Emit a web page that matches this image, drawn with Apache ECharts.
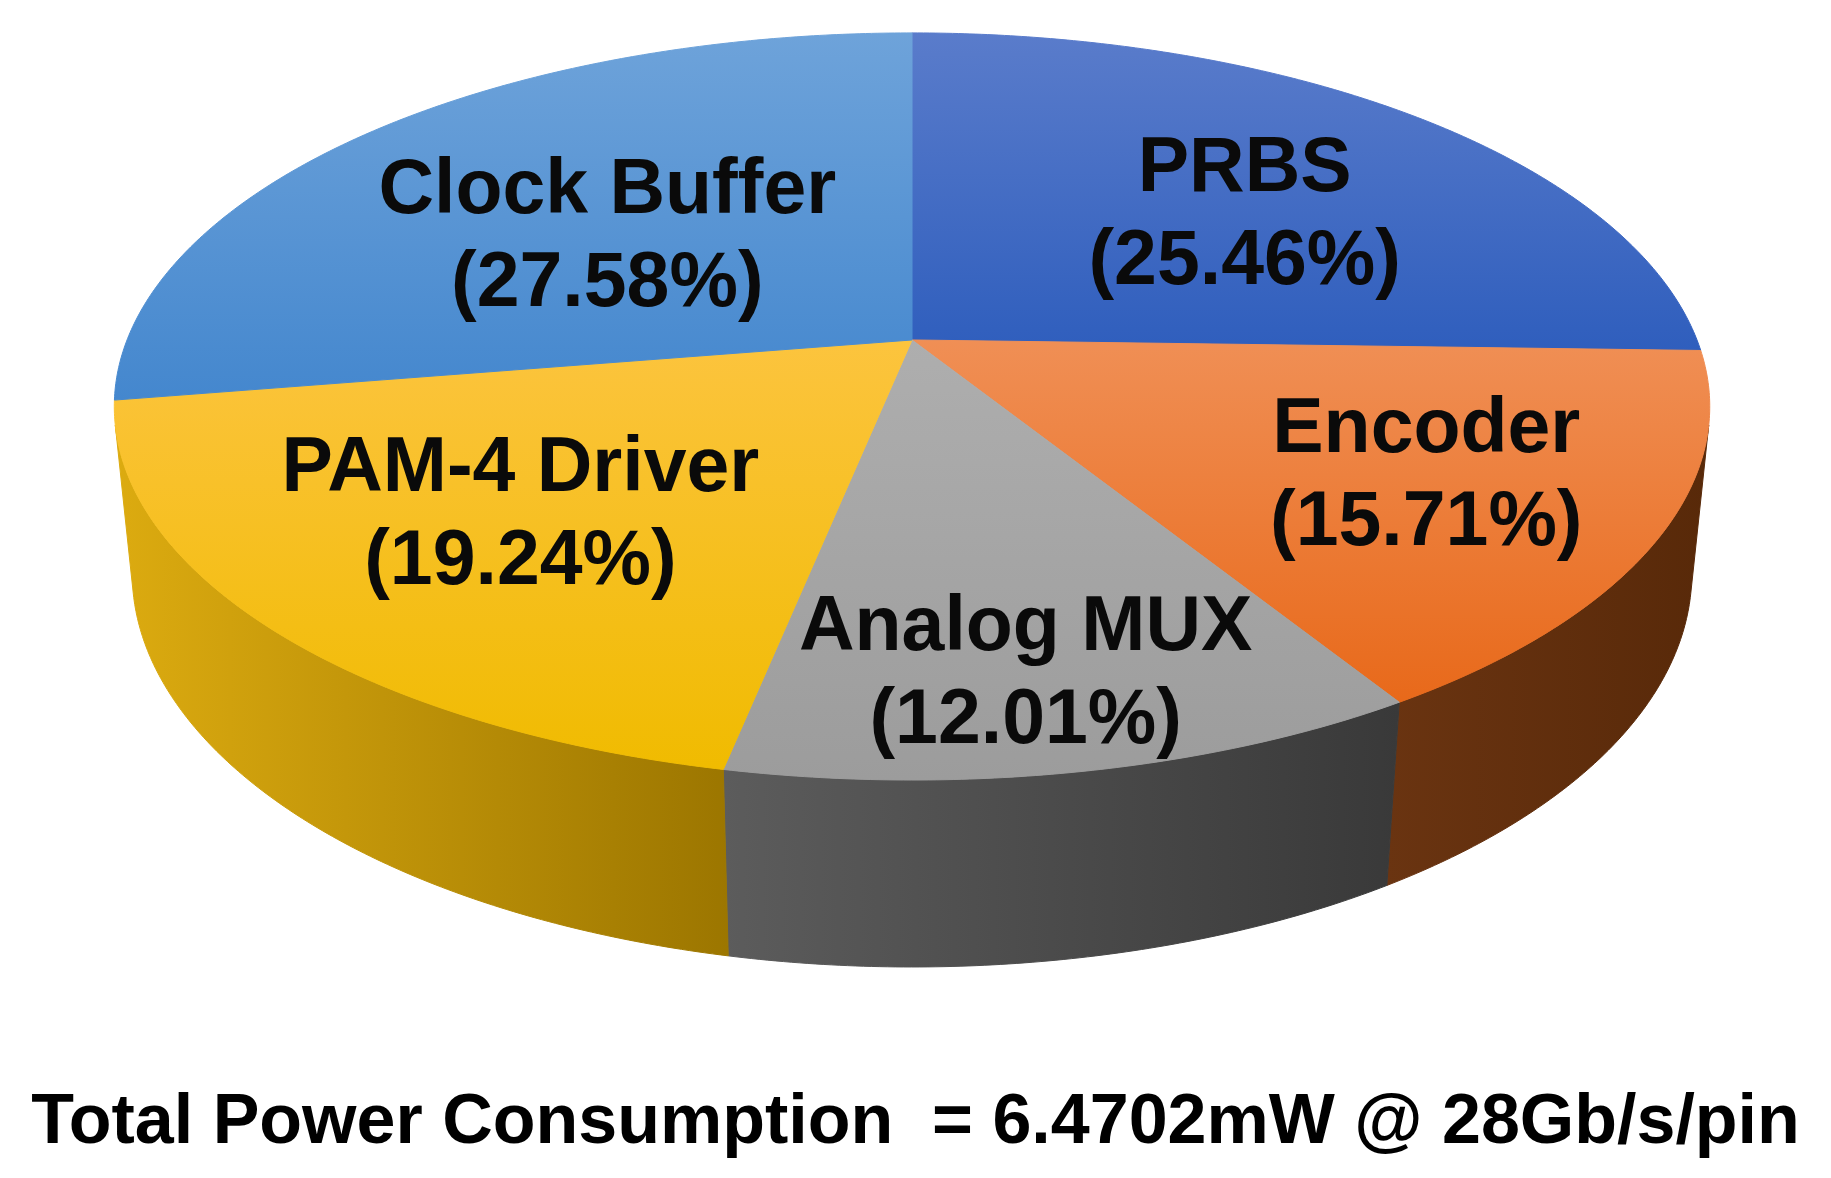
<!DOCTYPE html>
<html>
<head>
<meta charset="utf-8">
<script src="https://cdn.jsdelivr.net/npm/echarts@6/dist/echarts.min.js"></script>
<style>
  html, body { margin: 0; padding: 0; background: #ffffff; }
  #chart { width: 1831px; height: 1178px; }
</style>
</head>
<body>
<div id="chart"></div>
<script>
// ---------------- data ----------------
const categories = ['PRBS', 'Encoder', 'Analog MUX', 'PAM-4 Driver', 'Clock Buffer'];
const shares = [25.46, 15.71, 12.01, 19.24, 27.58];
const totalText = 'Total Power Consumption  = 6.4702mW @ 28Gb/s/pin';

// ---------------- styles ----------------
const topColors = [
  ['#5a7ccb', '#2f5ebd'],
  ['#f08f55', '#e8691a'],
  ['#aeaeae', '#9c9c9c'],
  ['#fcc43e', '#f0bb00'],
  ['#6ea3da', '#4487ce']
];
const sideColors = [
  ['#2a4f9a', '#20407e'],
  ['#6a3411', '#582909'],
  ['#5c5c5c', '#393939'],
  ['#dcab10', '#9c7600'],
  ['#3a6fa8', '#2d5a8a']
];
// label nudges (layout only, px)
const labelNudge = [[-6, 28], [45, 13], [12, 74], [8, -1], [57, 40]];

const chart = echarts.init(document.getElementById('chart'), null, { renderer: 'canvas' });

const total = shares.reduce((a, b) => a + b, 0);

function makeCam(api) {
  const W = api.getWidth(), H = api.getHeight();
  const sinA = 0.4608, cosA = Math.sqrt(1 - sinA * sinA);
  return { cx: W * 0.4981, cy: H * 0.2886, F: W * 2.1376, D: 4.986, sinA: sinA, cosA: cosA, h: 0.2406 };
}
function proj(c, theta, r, y) {
  const X = r * Math.sin(theta), Z = r * Math.cos(theta);
  const depth = c.D - y * c.sinA + Z * c.cosA;
  const up = y * c.cosA + Z * c.sinA;
  return [c.cx + c.F * X / depth, c.cy - c.F * up / depth];
}
function arc(c, a0, a1, r, y) {
  const pts = [];
  const n = Math.max(2, Math.ceil(Math.abs(a1 - a0) / (Math.PI / 360)));
  for (let i = 0; i <= n; i++) {
    pts.push(proj(c, a0 + (a1 - a0) * i / n, r, y));
  }
  return pts;
}
function grad(x0, y0, x1, y1, cols) {
  return new echarts.graphic.LinearGradient(x0, y0, x1, y1, [
    { offset: 0, color: cols[0] }, { offset: 1, color: cols[1] }
  ]);
}

function renderItem(params, api) {
  const idx = params.dataIndex;
  const c = makeCam(api);
  let start = 0;
  for (let i = 0; i < idx; i++) start += shares[i];
  const val = api.value(1);
  const a0 = start / total * Math.PI * 2;
  const a1 = (start + val) / total * Math.PI * 2;
  const children = [];

  // visible side band
  const thr = Math.acos(-1 / (c.D * c.cosA));
  const s0 = Math.max(a0, thr), s1 = Math.min(a1, Math.PI * 2 - thr);
  if (s1 > s0) {
    const topArc = arc(c, s0, s1, 1, 0);
    const botArc = arc(c, s1, s0, 1, -c.h);
    const sideFill = grad(0, 0, 1, 0, sideColors[idx]);
    children.push({
      type: 'polygon',
      shape: { points: topArc.concat(botArc) },
      style: { fill: sideFill, stroke: sideFill, lineWidth: 1 },
      z2: 1
    });
  }
  // top face
  const centre = proj(c, 0, 0, 0);
  const topPts = [centre].concat(arc(c, a0, a1, 1, 0));
  const topFill = grad(0, 0, 0, 1, topColors[idx]);
  children.push({
    type: 'polygon',
    shape: { points: topPts },
    style: { fill: topFill, stroke: topFill, lineWidth: 1 },
    z2: 2
  });
  // label
  const mid = (a0 + a1) / 2;
  const lp = proj(c, mid, 0.65, 0);
  children.push({
    type: 'text',
    x: lp[0] + labelNudge[idx][0],
    y: lp[1] + labelNudge[idx][1],
    style: {
      text: categories[idx] + '\n(' + val.toFixed(2) + '%)',
      fontFamily: 'Liberation Sans, Arial, sans-serif',
      fontWeight: 'bold',
      fontSize: 77,
      lineHeight: 93,
      fill: '#0a0a0a',
      align: 'center',
      verticalAlign: 'middle'
    },
    z2: 100
  });
  return { type: 'group', children: children };
}

chart.setOption({
  backgroundColor: '#ffffff',
  animation: false,
  title: {
    text: totalText,
    left: 'center',
    top: 1084,
    textStyle: {
      fontFamily: 'Liberation Sans, Arial, sans-serif',
      fontWeight: 'bold',
      fontSize: 70,
      color: '#000000'
    }
  },
  series: [{
    type: 'custom',
    coordinateSystem: 'none',
    renderItem: renderItem,
    data: shares.map((v, i) => [i, v]),
    dimensions: ['index', 'share']
  }]
});
</script>
</body>
</html>
